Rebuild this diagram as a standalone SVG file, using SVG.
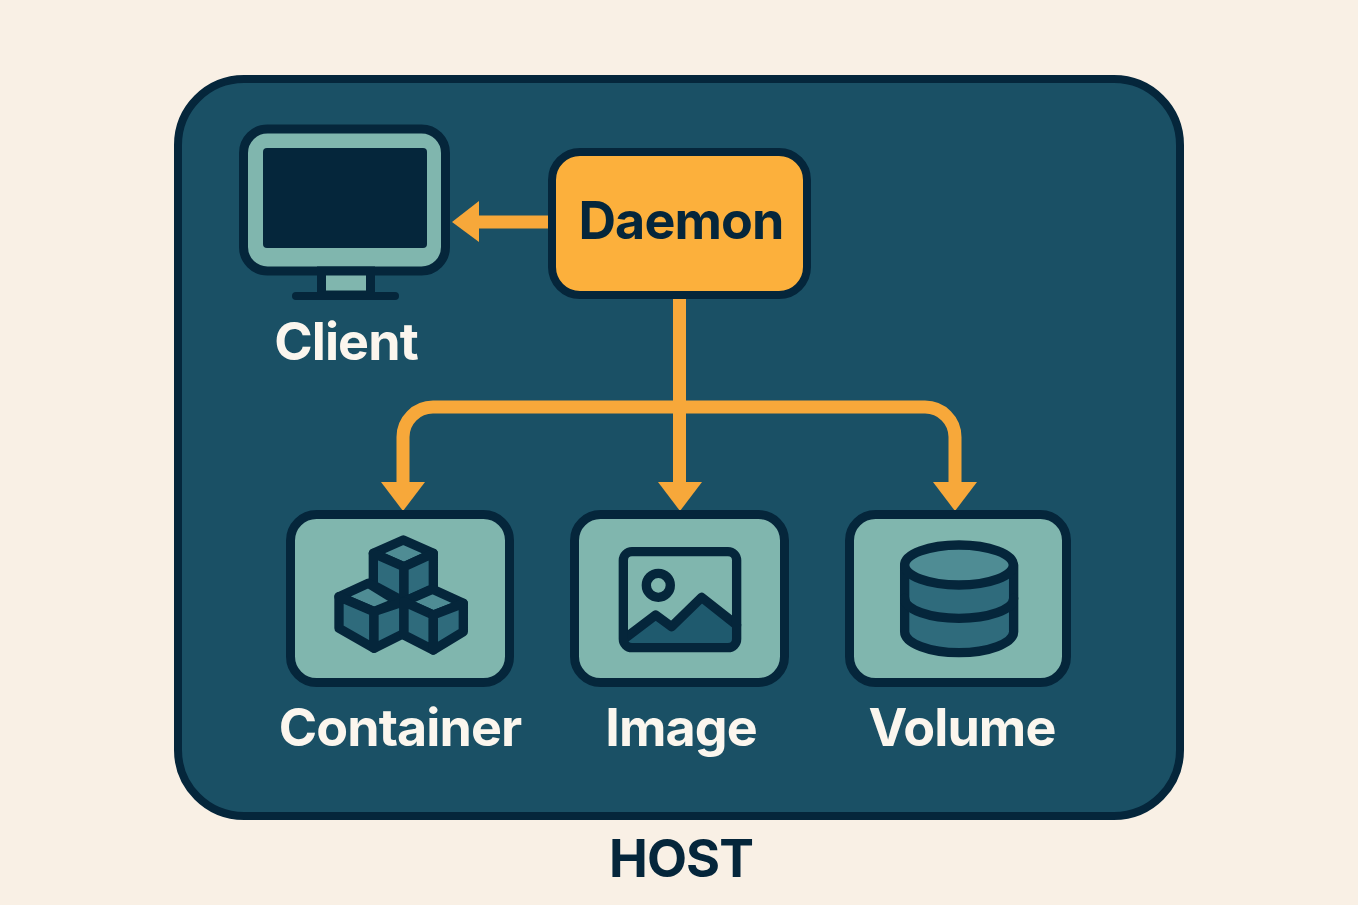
<svg xmlns="http://www.w3.org/2000/svg" width="1358" height="905" viewBox="0 0 1358 905">
<style>
.card{fill:#80b6ae;stroke:#05263b;stroke-width:9}
.ic{stroke:#05263b;stroke-width:28;stroke-linejoin:round;stroke-linecap:round}
.top{fill:#4f8c94}.side{fill:#2f6b7c}.no{fill:none}
.lab{font-family:Inter,"Liberation Sans",sans-serif;font-weight:700;font-size:52px;letter-spacing:-.9px;text-anchor:middle}
.w{fill:#fbf6ee}.d{fill:#05263b}
.conn{fill:none;stroke:#f7a83a;stroke-width:13}
.head{fill:#f7a83a}
</style>
<rect width="1358" height="905" fill="#f9f0e5"/>
<g id="host">
<rect x="178" y="79" width="1002" height="737" rx="66" fill="#1a5065" stroke="#05263b" stroke-width="8"/>
<text class="lab d" x="681" y="877">HOST</text>
</g>
<g id="connectors">
<path class="conn" d="M548 222H475"/>
<path class="head" d="M452 222L479 201V242Z"/>
<path class="conn" d="M679.500 299V485"/>
<path class="conn" d="M403 485V437A30 30 0 0 1 433 407H925A30 30 0 0 1 955 437V485"/>
<path class="head" d="M381 482H425L403 511Z"/>
<path class="head" d="M658 482H702L680 511Z"/>
<path class="head" d="M933 482H977L955 511Z"/>
</g>
<g id="client">
<rect x="243.500" y="129" width="202" height="142" rx="24" fill="#80b6ae" stroke="#05263b" stroke-width="9"/>
<rect x="263" y="148" width="164" height="100" rx="4" fill="#05263b"/>
<rect x="321.500" y="271" width="49" height="24" fill="#80b6ae" stroke="#05263b" stroke-width="9"/>
<rect x="292" y="292" width="107" height="8" rx="4" fill="#05263b"/>
<text class="lab w" x="346" y="360">Client</text>
</g>
<g id="daemon">
<rect x="552" y="152" width="255" height="143" rx="28" fill="#fcb03c" stroke="#05263b" stroke-width="8"/>
<text class="lab d" x="681" y="239">Daemon</text>
</g>
<g id="container">
<rect class="card" x="290.500" y="514.500" width="219" height="168" rx="26"/>
<g transform="translate(280 500) scale(.3333)">
<path class="ic top" d="M370 120L460 160L372 200L280 160Z"/>
<path class="ic side" d="M280 160L372 200V305L280 255Z"/>
<path class="ic side" d="M460 160L372 200V305L460 265Z"/>
<path class="ic top" d="M265 250L355 305L282 335L177 290Z"/>
<path class="ic side" d="M177 290L282 335V445L177 385Z"/>
<path class="ic side" d="M372 305L282 335V445L372 400Z"/>
<path class="ic top" d="M458 268L550 310L460 345L372 305Z"/>
<path class="ic side" d="M372 305L460 345V450L372 405Z"/>
<path class="ic side" d="M550 310L460 345V450L550 395Z"/>
</g>
<text class="lab w" x="400" y="746">Container</text>
</g>
<g id="image">
<rect class="card" x="574.500" y="514.500" width="210" height="168" rx="26"/>
<g transform="translate(565 500) scale(.3333)">
<path d="M187 425L272 345L320 380L410 292L503 375V431H187Z" fill="#1f5a6e"/>
<path class="ic no" d="M180 415L272 345L320 380L410 292L515 375"/>
<rect class="ic no" x="175" y="155" width="340" height="288" rx="26"/>
<circle class="ic no" cx="280" cy="256" r="36"/>
</g>
<text class="lab w" x="681" y="746">Image</text>
</g>
<g id="volume">
<rect class="card" x="849.500" y="514.500" width="217" height="168" rx="26"/>
<g transform="translate(840 500) scale(.3333)">
<path class="ic side" d="M194 195V395C194 430 270 458 357 458S521 430 521 395V195Z"/>
<path class="ic no" d="M194 295C194 330 270 355 357 355S521 330 521 295"/>
<ellipse class="ic top" cx="357" cy="195" rx="163" ry="60"/>
</g>
<text class="lab w" x="962" y="746">Volume</text>
</g>
</svg>
